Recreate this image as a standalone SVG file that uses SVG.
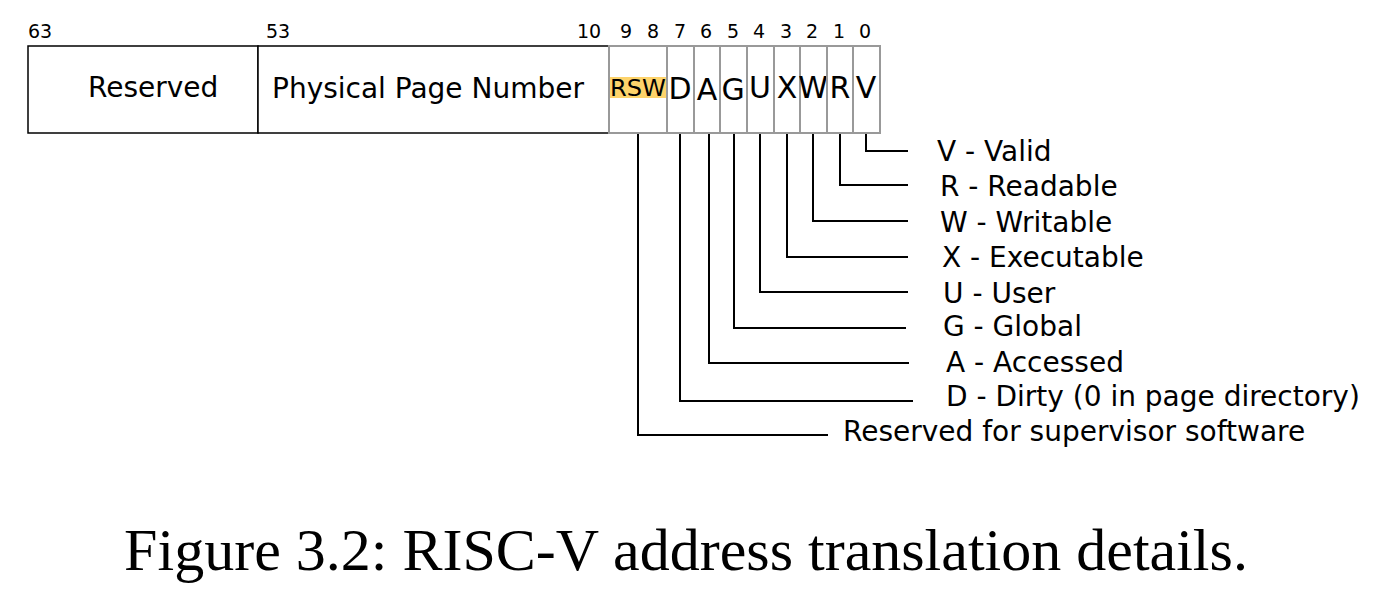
<svg xmlns="http://www.w3.org/2000/svg" width="1394" height="595" viewBox="0 0 1394 595">
<style>
.t{font-family:"DejaVu Sans",sans-serif;fill:#000}
.n{font-size:19px}
.f{font-size:28px}
.c{fill:#fff;stroke:#999;stroke-width:2}
.b{fill:#fff;stroke:#000;stroke-width:1.5}
.l{fill:none;stroke:#000;stroke-width:2}
</style>
<rect width="1394" height="595" fill="#fff"/>
<g id="numbers" class="t n">
<text x="28" y="38">63</text><text x="266" y="38">53</text><text x="577" y="38">10</text>
<text x="620" y="38">9</text><text x="647" y="38">8</text><text x="674" y="38">7</text><text x="700" y="38">6</text><text x="727" y="38">5</text><text x="753" y="38">4</text><text x="780" y="38">3</text><text x="806" y="38">2</text><text x="833" y="38">1</text><text x="859" y="38">0</text>
</g>
<g id="reserved"><rect class="b" x="28" y="46" width="230" height="87"/><text class="t f" x="88" y="97">Reserved</text></g>
<g id="ppn"><rect class="b" x="258" y="46" width="351" height="87"/><text class="t f" x="272" y="98">Physical Page Number</text></g>
<g id="rsw"><rect class="c" x="609" y="46" width="58" height="87"/><rect x="610" y="77" width="56" height="21" fill="#fdd36b"/><text class="t" font-size="23" x="638" y="96" text-anchor="middle" textLength="56" lengthAdjust="spacingAndGlyphs">RSW</text></g>
<g id="bits" class="t" font-size="30" text-anchor="middle">
<rect class="c" x="667" y="46" width="27" height="87"/><text x="680" y="99">D</text>
<rect class="c" x="694" y="46" width="26" height="87"/><text x="707" y="100">A</text>
<rect class="c" x="720" y="46" width="27" height="87"/><text x="733" y="100">G</text>
<rect class="c" x="747" y="46" width="27" height="87"/><text x="760" y="98">U</text>
<rect class="c" x="774" y="46" width="26" height="87"/><text x="787" y="98">X</text>
<rect class="c" x="800" y="46" width="27" height="87"/><text x="813" y="98">W</text>
<rect class="c" x="827" y="46" width="26" height="87"/><text x="840" y="98">R</text>
<rect class="c" x="853" y="46" width="27" height="87"/><text x="866" y="98">V</text>
</g>
<g id="connectors" class="l">
<polyline points="866,134 866,151 908,151"/>
<polyline points="840,134 840,185 908,185"/>
<polyline points="813,134 813,221 908,221"/>
<polyline points="787,134 787,257 908,257"/>
<polyline points="760,134 760,292 908,292"/>
<polyline points="734,134 734,328 906,328"/>
<polyline points="709,134 709,363 909,363"/>
<polyline points="680,134 680,401 913,401"/>
<polyline points="638,134 638,435 828,435"/>
</g>
<g id="labels" class="t f">
<text x="937" y="161">V - Valid</text>
<text x="940" y="196">R  - Readable</text>
<text x="940" y="232">W - Writable</text>
<text x="942" y="267">X - Executable</text>
<text x="943" y="303">U - User</text>
<text x="943" y="336">G - Global</text>
<text x="946" y="372">A - Accessed</text>
<text x="946" y="406">D - Dirty (0 in page directory)</text>
<text x="843" y="441">Reserved for supervisor software</text>
</g>
<text x="686" y="570" text-anchor="middle" font-family="Liberation Serif,serif" font-size="60">Figure 3.2: RISC-V address translation details.</text>
</svg>
